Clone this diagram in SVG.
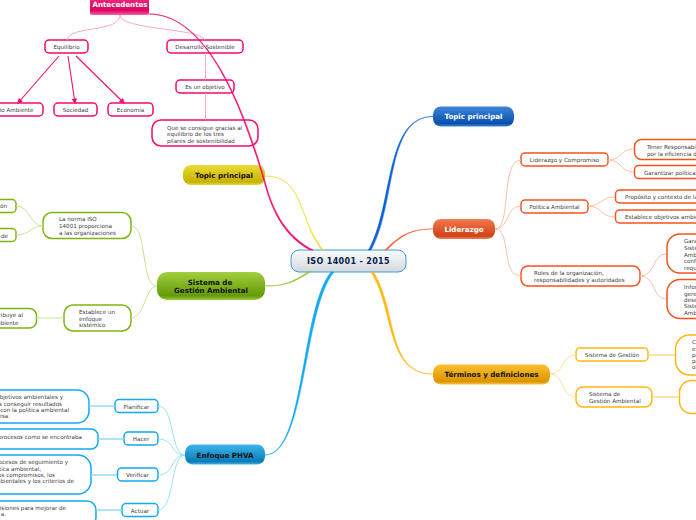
<svg xmlns="http://www.w3.org/2000/svg" width="696" height="520" viewBox="0 0 696 520">
<style>
text{font-family:"DejaVu Sans",Verdana,sans-serif;font-size:5.6px;fill:#3c3c3c}
.m text,text.m{font-size:7.1px;font-weight:700;fill:#111;text-anchor:middle}
.w text{fill:#fff}
.c{text-anchor:middle}
.e{text-anchor:end}
.n{fill:#fff;stroke-width:1.5}
.pk{stroke:#f50a6e}.gr{stroke:#7fb512}.cy{stroke:#12a9ee}.or{stroke:#f4531f}.go{stroke:#fdb813}
#con path{fill:none;stroke-width:.9}
.lpk{stroke:#fb9cc4}.lgr{stroke:#c5e08a}.lcy{stroke:#90dcf9}.lor{stroke:#fcb9a0}.lgo{stroke:#fedc8c}
#con .h{stroke-width:1.5}
#con .ar{stroke:#f50a6e;stroke-width:1.1}
#con path.tb{fill:#0f62d6;stroke:#0f62d6;stroke-width:.5}
#con path.to{fill:#f4663a;stroke:#f4663a;stroke-width:.5}
#con path.ty{fill:#f0dc20;stroke:#f0dc20;stroke-width:.5}
#con path.tp{fill:#f50a6e;stroke:#f50a6e;stroke-width:.6}
#con path.tg{fill:#8fc020;stroke:#8fc020;stroke-width:.5}
#con path.tc{fill:#12a9ee;stroke:#12a9ee;stroke-width:.5}
#con path.tt{fill:#fdb813;stroke:#fdb813;stroke-width:.5}
</style>
<defs>
<linearGradient id="gp" x1="0" y1="0" x2="0" y2="1"><stop offset="0" stop-color="#f8398c"/><stop offset=".8" stop-color="#dc0560"/><stop offset="1" stop-color="#f8609f"/></linearGradient>
<linearGradient id="gy" x1="0" y1="0" x2="0" y2="1"><stop offset="0" stop-color="#ecdc38"/><stop offset=".85" stop-color="#c8b200"/><stop offset="1" stop-color="#e8d840"/></linearGradient>
<linearGradient id="gg" x1="0" y1="0" x2="0" y2="1"><stop offset="0" stop-color="#a2cf3e"/><stop offset=".85" stop-color="#649a08"/><stop offset="1" stop-color="#9cca3a"/></linearGradient>
<linearGradient id="gc" x1="0" y1="0" x2="0" y2="1"><stop offset="0" stop-color="#3cb6ec"/><stop offset=".85" stop-color="#0a7cb8"/><stop offset="1" stop-color="#40b4e8"/></linearGradient>
<linearGradient id="gb" x1="0" y1="0" x2="0" y2="1"><stop offset="0" stop-color="#3d85dc"/><stop offset=".85" stop-color="#0a50ac"/><stop offset="1" stop-color="#3d85dc"/></linearGradient>
<linearGradient id="go" x1="0" y1="0" x2="0" y2="1"><stop offset="0" stop-color="#f47a50"/><stop offset=".85" stop-color="#cf4214"/><stop offset="1" stop-color="#f48060"/></linearGradient>
<linearGradient id="gt" x1="0" y1="0" x2="0" y2="1"><stop offset="0" stop-color="#fcc030"/><stop offset=".85" stop-color="#dc9500"/><stop offset="1" stop-color="#fcc440"/></linearGradient>
<linearGradient id="gr" x1="0" y1="0" x2="0" y2="1"><stop offset="0" stop-color="#fafcfd"/><stop offset="1" stop-color="#d2d8dc"/></linearGradient>
<marker id="a" markerWidth="5" markerHeight="5" refX="4" refY="2.5" orient="auto"><path d="M0,0L5,2.5L0,5Z" fill="#f50a6e"/></marker>
</defs>
<g id="antecedentes" class="m w"><rect x="90" y="-8" width="59" height="23" rx="2" fill="url(#gp)"/><text x="120" y="7">Antecedentes</text></g>
<g id="equilibrio"><rect class="n pk" x="45" y="40" width="43" height="13" rx="4"/><text class="c" x="66.500" y="49">Equilibrio</text></g>
<g id="desarrollo"><rect class="n pk" x="167" y="40" width="76" height="13" rx="4"/><text class="c" x="205" y="49">Desarrollo Sostenible</text></g>
<g id="objetivo"><rect class="n pk" x="176" y="80" width="58" height="13" rx="4"/><text class="c" x="205" y="89">Es un objetivo</text></g>
<g id="que"><rect class="n pk" x="152" y="120" width="106" height="26" rx="9"/><text x="167" y="129.500">Que se consigue gracias al</text><text x="167" y="135.800">equilibrio de los tres</text><text x="167" y="142.500">pilares de sostenibilidad</text></g>
<g id="medio"><rect class="n pk" x="-20" y="103" width="63" height="13" rx="4"/><text class="e" x="33.500" y="112">Medio Ambiente</text></g>
<g id="sociedad"><rect class="n pk" x="54" y="103" width="43" height="13" rx="4"/><text class="c" x="75.500" y="112">Sociedad</text></g>
<g id="economia"><rect class="n pk" x="108" y="103" width="45" height="13" rx="4"/><text class="c" x="130.500" y="112">Economía</text></g>
<g id="topic-y" class="m"><rect x="183" y="165" width="82" height="20" rx="8" fill="url(#gy)"/><text x="224" y="178">Topic principal</text></g>
<g id="sistema" class="m"><rect x="157" y="272" width="108" height="28" rx="10" fill="url(#gg)"/><text x="210" y="285">Sistema de</text><text x="211" y="293">Gestión Ambiental</text></g>
<g id="norma"><rect class="n gr" x="43" y="212.500" width="88" height="26" rx="9"/><text x="59" y="221">La norma ISO</text><text x="59" y="227.800">14001 proporciona</text><text x="59" y="234.500">a las organizaciones</text></g>
<g id="n-on"><rect class="n gr" x="-20" y="199.500" width="36" height="13" rx="4"/><text class="e" x="7" y="208">ón</text></g>
<g id="n-de"><rect class="n gr" x="-20" y="228.500" width="36" height="13" rx="4"/><text class="e" x="8" y="237.500">de</text></g>
<g id="establece"><rect class="n gr" x="64" y="305" width="67" height="26" rx="9"/><text x="79" y="314">Establece un</text><text x="79" y="320.500">enfoque</text><text x="79" y="327">sistémico</text></g>
<g id="contribuye"><rect class="n gr" x="-20" y="308.500" width="56.500" height="19.500" rx="7"/><text class="e" x="23" y="317">Contribuye al</text><text class="e" x="18.500" y="324.500">medio ambiente</text></g>
<g id="phva" class="m"><rect x="185" y="444.500" width="80" height="20" rx="8" fill="url(#gc)"/><text x="225" y="457.500">Enfoque PHVA</text></g>
<g id="planificar"><rect class="n cy" x="115" y="399.500" width="43" height="13" rx="4"/><text class="c" x="136.500" y="408.500">Planificar</text></g>
<g id="hacer"><rect class="n cy" x="124" y="432" width="34" height="13" rx="4"/><text class="c" x="141" y="441">Hacer</text></g>
<g id="verificar"><rect class="n cy" x="117.500" y="468" width="40.500" height="13" rx="4"/><text class="c" x="137.500" y="477">Verificar</text></g>
<g id="actuar"><rect class="n cy" x="122" y="503.500" width="36" height="13" rx="4"/><text class="c" x="140" y="512.500">Actuar</text></g>
<g id="b1"><rect class="n cy" x="-40" y="390" width="129" height="33" rx="12"/><text class="e" x="63" y="399">objetivos ambientales y</text><text class="e" x="62" y="405.500">procesos conseguir resultados</text><text class="e" x="69" y="411.800">con la política ambiental</text><text class="e" x="10" y="418">esa.</text></g>
<g id="b2"><rect class="n cy" x="-40" y="429" width="138" height="20" rx="7"/><text class="e" x="82" y="438.500">procesos como se encontraba</text></g>
<g id="b3"><rect class="n cy" x="-40" y="455" width="131" height="39" rx="13"/><text class="e" x="68" y="464">ocesos de seguimiento y</text><text class="e" x="41" y="470.500">tica ambiental,</text><text class="e" x="55" y="477">os compromisos, los</text><text class="e" x="74" y="483">bientales y los criterios de</text></g>
<g id="b4"><rect class="n cy" x="-40" y="501" width="136" height="25" rx="9"/><text class="e" x="66" y="509.500">isiones para mejorar de</text><text class="e" x="6" y="516">a.</text></g>
<g id="topic-b" class="m w"><rect x="433" y="106.500" width="81" height="20" rx="8" fill="url(#gb)"/><text x="473.500" y="119">Topic principal</text></g>
<g id="liderazgo" class="m w"><rect x="433" y="219" width="62" height="20" rx="8" fill="url(#go)"/><text x="464" y="231.500">Liderazgo</text></g>
<g id="terminos" class="m"><rect x="433" y="364.500" width="117" height="20" rx="8" fill="url(#gt)"/><text x="491.500" y="377">Términos y definiciones</text></g>
<g id="root" class="m"><rect x="291" y="250" width="115" height="22" rx="8" fill="url(#gr)" stroke="#3d9ad0" stroke-width="1"/><text x="348.500" y="264" style="font-size:8px;fill:#0d2148;letter-spacing:.35px">ISO 14001 - 2015</text></g>
<g id="lider"><rect class="n or" x="521" y="153" width="87" height="13" rx="4"/><text class="c" x="564.500" y="162">Liderazgo y Compromiso</text></g>
<g id="politica"><rect class="n or" x="521" y="200" width="67" height="13" rx="4"/><text class="c" x="554.500" y="209">Política Ambiental</text></g>
<g id="roles"><rect class="n or" x="521" y="266" width="119" height="20" rx="7"/><text x="534" y="275">Roles de la organización,</text><text x="534" y="282">responsabilidades y autoridades</text></g>
<g id="tener"><rect class="n or" x="634.500" y="139.500" width="80" height="20" rx="7"/><text x="647" y="149">Tener Responsabilidad</text><text x="647" y="156">por la eficiencia del</text></g>
<g id="garantizar"><rect class="n or" x="634.500" y="165.500" width="80" height="13" rx="4"/><text x="644" y="175">Garantizar política</text></g>
<g id="proposito"><rect class="n or" x="615.500" y="190" width="100" height="13" rx="4"/><text x="625" y="199">Propósito y contexto de la</text></g>
<g id="objetivos"><rect class="n or" x="615.500" y="210" width="100" height="13" rx="4"/><text x="625" y="219">Establece objetivos ambientales</text></g>
<g id="gara"><rect class="n or" x="667" y="234" width="60" height="39" rx="13"/><text x="684" y="243">Garantizar</text><text x="684" y="250">Sistema</text><text x="684" y="256.500">Ambiental</text><text x="684" y="263">conforme</text><text x="684" y="269.500">requisitos</text></g>
<g id="info"><rect class="n or" x="667" y="279.500" width="60" height="39" rx="13"/><text x="684" y="289">Informar</text><text x="684" y="295.500">gerencia</text><text x="684" y="302">desempeño</text><text x="684" y="308">Sistema</text><text x="684" y="315">Ambiental</text></g>
<g id="gestion"><rect class="n go" x="576" y="348" width="72" height="13" rx="4"/><text class="c" x="612" y="357">Sistema de Gestión</text></g>
<g id="ambiental"><rect class="n go" x="576" y="387" width="76" height="20" rx="7"/><text x="589" y="396">Sistema de</text><text x="589" y="403">Gestión Ambiental</text></g>
<g id="conjunto"><rect class="n go" x="675.500" y="335" width="50" height="40" rx="14"/><text x="692" y="344">Conjunto</text><text x="692" y="351">elementos</text><text x="692" y="356.500">para</text><text x="692" y="362.500">para</text><text x="692" y="369">objetivos</text></g>
<g id="vacio"><rect class="n go" x="679.500" y="380.500" width="50" height="33" rx="12"/></g>
<g id="con">
<path class="lpk" d="M120,15C120,33 70,25 67,40"/>
<path class="lpk" d="M120,15C120,30 200,28 205,40"/>
<path class="lpk" d="M205.500,53V80M205.500,93V120"/>
<path class="ar" d="M59,56L18,103" marker-end="url(#a)"/>
<path class="ar" d="M68,56L75,103" marker-end="url(#a)"/>
<path class="ar" d="M76,56L124,103" marker-end="url(#a)"/>
<path class="lgr" d="M157,286C140,286 148,226 131,226"/>
<path class="lgr" d="M157,286C145,286 145,318 131,318"/>
<path class="lgr" d="M43,226C30,226 30,206 16,206"/>
<path class="lgr" d="M43,226C30,226 30,235 16,235"/>
<path class="lgr" d="M36,318H64"/>
<path class="lcy" d="M185,455C170,455 175,406 158,406"/>
<path class="lcy" d="M185,455C170,455 175,439 158,439"/>
<path class="lcy" d="M185,455C170,455 175,475 158,475"/>
<path class="lcy" d="M185,455C170,455 175,510 158,510"/>
<path class="lcy h" d="M89,406H115M98,439H124M91,475H117M96,510H122"/>
<path class="lor" d="M495,229C512,229 500,160 521,160"/>
<path class="lor" d="M495,229C510,229 505,206 521,206"/>
<path class="lor" d="M495,229C512,229 500,276 521,276"/>
<path class="lor" d="M608,160C622,160 620,149 634,149"/>
<path class="lor" d="M608,160C622,160 620,172 634,172"/>
<path class="lor" d="M588,206C602,206 600,197 615,197"/>
<path class="lor" d="M588,206C602,206 600,217 615,217"/>
<path class="lor" d="M640,276C656,276 652,254 666,254"/>
<path class="lor" d="M640,276C656,276 652,299 666,299"/>
<path class="lgo" d="M550,374C565,374 560,355 576,355"/>
<path class="lgo" d="M550,374C565,374 560,397 576,397"/>
<path class="lgo h" d="M648,355H675M652,397H679"/>
<path class="tb" d="M368.500,250C394,205 384,116.500 433,116.500C385.500,116.500 396.500,205 371,250Z"/>
<path class="to" d="M385,250C400,235 410,229 433,229C411,229 401,236 387,250Z"/>
<path class="ty" d="M322,250C298,220 305,176 265,176C304,176 298,220 323.500,250Z"/>
<path class="tp" d="M310,250C288,238 275,218 266.500,190C248,125 212,14 149,14C213,14 249,125 267.500,190C276,218 290,238 313,250Z"/>
<path class="tg" d="M309,271.500C292,282 285,286 265,286C285,286 293,283 311,271.500Z"/>
<path class="tc" d="M331,272C300,310 305,455 265,455C306.500,455 302.500,310 334,272Z"/>
<path class="tt" d="M371,272C395,310 385,374 433,374C386.500,374 397.500,310 373.500,272Z"/>
</g>
</svg>
